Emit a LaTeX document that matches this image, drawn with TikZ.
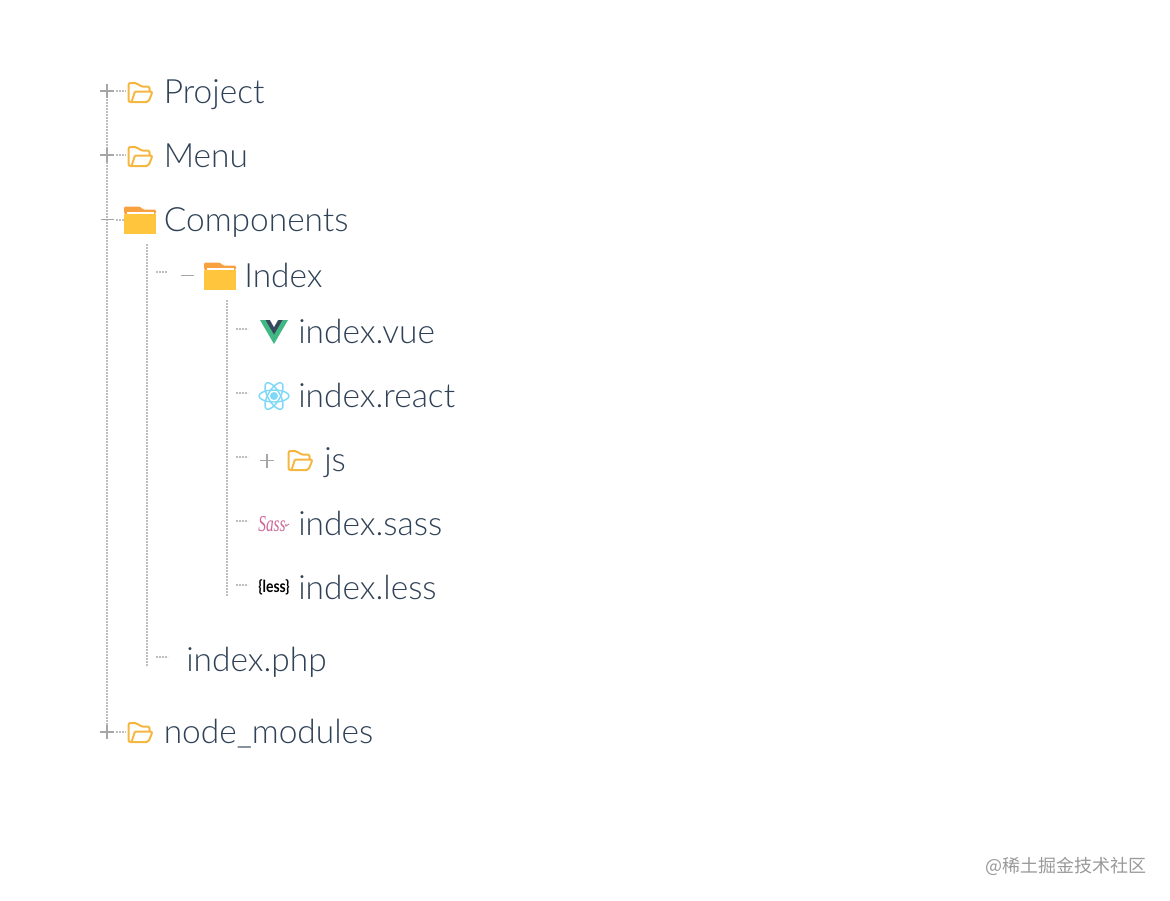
\documentclass[tikz,border=0pt]{standalone}
\usepackage{fontspec}
\setmainfont{Lato Light}
\newfontfamily\boldlato{Lato}
\newfontfamily\sasslato{Liberation Serif}
\newfontfamily\cjkmark{Noto Sans CJK SC}
\definecolor{treegray}{HTML}{BEBEBE}
\definecolor{markgray}{HTML}{A6A6A6}
\definecolor{labelblue}{HTML}{2F4156}
\definecolor{folderline}{HTML}{F5B642}
\definecolor{folderbody}{HTML}{FFC53D}
\definecolor{foldertab}{HTML}{F9A03F}
\definecolor{vuegreen}{HTML}{41B883}
\definecolor{vuedark}{HTML}{35495E}
\definecolor{reactblue}{HTML}{7FD8F7}
\definecolor{sasspink}{HTML}{CD6799}
\tikzset{
    treeline/.style={draw=treegray,line width=1.1pt,dash pattern=on 1.125pt off 1.125pt},
    markline/.style={draw=markgray,line width=0.9pt},
    rowlabel/.style={anchor=base west,inner sep=0pt,text=labelblue,font=\fontsize{25.1}{29}\selectfont},
    foldopen/.pic={
        \draw[folderline,line width=1.5pt,line join=round,rounded corners=1.5pt]
        (-5,-1) -- (12.5,-1) -- (8.5,9.5) -- (-11.5,9.5) -- (-11.5,-9.5) -- (-3,-9.5) -- (0.5,-6) -- (9.5,-6) -- (9.5,-1)
        (-5,-1) -- (-8.5,9.5);
    },
    foldfull/.pic={
        \fill[foldertab,rounded corners=1pt] (-16,-6) -- (-16,-13.5) -- (0,-13.5) -- (3,-10.5) -- (16,-10.5) -- (16,-6) -- cycle;
        \fill[white] (-13,-8.3) rectangle (14,-6);
        \fill[folderbody] (-16,-6) rectangle (16,14);
    },
    plusmark/.pic={
        \draw[markline] (-7,0) -- (7,0) (0,-7) -- (0,7);
    },
    minusmark/.pic={
        \draw[markline] (-6.5,0) -- (6.5,0);
    }
}
\begin{document}
\begin{tikzpicture}[x=0.75pt,y=-0.75pt]
    \useasboundingbox (0,0) rectangle (1170,900);
    % tree lines
    \coordinate (roota) at (107,90);
    \coordinate (rootb) at (107,732);
    \coordinate (compa) at (147,244);
    \coordinate (compb) at (147,667);
    \coordinate (indxa) at (227,300);
    \coordinate (indxb) at (227,596);
    \draw[treeline] (roota) -- (rootb);
    \draw[treeline] (compa) -- (compb);
    \draw[treeline] (indxa) -- (indxb);
    \foreach \nm/\xa/\xb/\yy in {proj/116/126/91,menu/116/126/155,comp/116/124/220,node/116/126/732,
        indx/156/168/272,php/156/168/657,
        vue/236/248/329,react/236/248/393,js/236/248/457,sass/236/248/521,less/236/248/585}{
        \coordinate (\nm a) at (\xa,\yy);
        \coordinate (\nm b) at (\xb,\yy);
        \draw[treeline] (\nm a) -- (\nm b);
    }
    % marks
    \pic (plusproj) at (107,91) {plusmark};
    \pic (plusmenu) at (107,155) {plusmark};
    \pic (minuscomp) at (107,219.5) {minusmark};
    \pic (minusindx) at (187,275.5) {minusmark};
    \pic (plusjs) at (267,460.5) {plusmark};
    \pic (plusnode) at (107,732) {plusmark};
    % folders
    \pic (foldproj) at (140,92.5) {foldopen};
    \pic (foldmenu) at (140,156.5) {foldopen};
    \pic (foldcomp) at (140,220) {foldfull};
    \pic (foldindx) at (220,276) {foldfull};
    \pic (foldjs) at (300,460.5) {foldopen};
    \pic (foldnode) at (140,732.5) {foldopen};
    % vue
    \fill[vuegreen] (260,320) -- (288,320) -- (274,344) -- cycle;
    \fill[vuedark] (265.5,320) -- (282.5,320) -- (274,334.5) -- cycle;
    \fill[white] (270,320) -- (278,320) -- (274,327) -- cycle;
    % react
    \foreach \ang in {0,60,120}{
        \draw[reactblue,line width=1.1pt,rotate around={\ang:(274,396)}] (274,396) ellipse (15 and 6);
    }
    \fill[reactblue] (274,396) circle (4);
    % labels
    \node[rowlabel] (project) at (163.5,103) {Project};
    \node[rowlabel] (menu) at (163.5,167) {Menu};
    \node[rowlabel] (components) at (163.5,231) {Components};
    \node[rowlabel] (index) at (244,287) {Index};
    \node[rowlabel] (vuefile) at (298,343) {index.vue};
    \node[rowlabel] (reactfile) at (298,407) {index.react};
    \node[rowlabel] (jsdir) at (324,471) {js};
    \node[rowlabel] (sassfile) at (298,535) {index.sass};
    \node[rowlabel] (lessfile) at (298,599) {index.less};
    \node[rowlabel] (phpfile) at (186,671) {index.php};
    \node[rowlabel] (nodedir) at (163.5,743) {node\_modules};
    % logos
    \node[text=sasspink,inner sep=0pt,xscale=0.68,font=\sasslato\itshape\fontsize{17}{17}\selectfont] (sasslogo) at (272,524) {Sass};
    \coordinate (sasstail) at (289,524);
    \draw[sasspink,line width=0.6pt] (sasslogo.east) .. controls (285,529) and (287,524) .. (sasstail);
    \node[text=black,inner sep=0pt,xscale=0.84,font=\boldlato\bfseries\fontsize{12.5}{14}\selectfont] (lesslogo) at (274,587) {\{less\}};
    % watermark
    \node[text=black!40,inner sep=0pt,font=\cjkmark\fontsize{13.5}{16}\selectfont] (watermark) at (1065.5,866) {@稀土掘金技术社区};
\end{tikzpicture}
\end{document}
